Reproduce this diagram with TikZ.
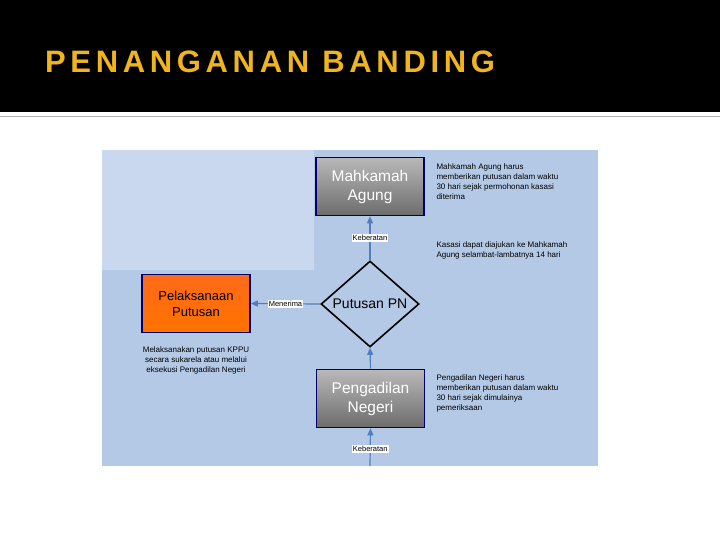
\documentclass[tikz,border=0pt]{standalone}
\usepackage{fontspec}
\setmainfont{Liberation Sans}
\newfontfamily\ttlfont[LetterSpace=15]{Liberation Sans}
\usetikzlibrary{shapes.geometric,arrows.meta}
\definecolor{ttl}{HTML}{F0B41E}
\definecolor{pan}{HTML}{B4C9E6}
\definecolor{pan2}{HTML}{C9D8EE}
\definecolor{arr}{HTML}{4F7FBF}
\tikzset{
 gbox/.style={draw=blue!40!black,line width=1.6pt,top color=gray!55,bottom color=gray!85!black,minimum width=108pt,minimum height=58pt,align=center,text=white,font=\fontsize{15.5}{19}\selectfont},
 obox/.style={draw=blue!40!black,line width=1.6pt,top color=orange!70!red!90,bottom color=orange!90!red,fill=orange,minimum width=108pt,minimum height=58pt,align=center,font=\fontsize{13}{16}\selectfont},
 note/.style={align=left,font=\fontsize{8}{10}\selectfont,anchor=north west},
 lab/.style={fill=white,inner sep=1pt,font=\fontsize{7.5}{8}\selectfont},
 con/.style={draw=arr,line width=1.2pt,-{Triangle[length=7pt,width=6pt]}}
}
\begin{document}
\begin{tikzpicture}[x=1pt,y=-1pt]
\useasboundingbox (0,0) rectangle (720,540);
\fill[black] (0,0) rectangle (720,112);
\draw[gray!60,line width=1pt] (0,117) -- (720,117);
\node[anchor=west,text=ttl,inner sep=0pt,font=\ttlfont\bfseries\fontsize{31}{33}\selectfont] (t) at (45,62) {PENANGANAN BANDING};
\fill[pan] (102,150) rectangle (598,466);
\fill[pan2] (102,150) rectangle (314,270);
\node[gbox] (ma) at (370,186.5) {Mahkamah\\Agung};
\node[gbox] (pn) at (370.5,398.5) {Pengadilan\\Negeri};
\node[obox] (pp) at (196,303.5) {Pelaksanaan\\Putusan};
\node[draw,line width=1.6pt,diamond,aspect=1.15,minimum width=98pt,minimum height=86pt,inner sep=0pt] (d) at (370,304) {};
\node (dl) at (370,304) {\fontsize{14}{16}\selectfont Putusan PN};
\coordinate (bot) at (370,466);
\draw[con] (d.north) -- node[lab,pos=0.5]{Keberatan} (ma.south);
\draw[con] (d.west) -- node[lab,pos=0.5]{Menerima} (pp.east);
\draw[con] (pn.north) -- (d.south);
\draw[con] (bot) -- node[lab,pos=0.45]{Keberatan} (pn.south);
\node[note] (n1) at (433,160) {Mahkamah Agung harus\\memberikan putusan dalam waktu\\30 hari sejak permohonan kasasi\\diterima};
\node[note] (n2) at (433,238) {Kasasi dapat diajukan ke Mahkamah\\Agung selambat-lambatnya 14 hari};
\node[note] (n3) at (433,371) {Pengadilan Negeri harus\\memberikan putusan dalam waktu\\30 hari sejak dimulainya\\pemeriksaan};
\node[note,align=center,anchor=north] (n4) at (196,343) {Melaksanakan putusan KPPU\\secara sukarela atau melalui\\eksekusi Pengadilan Negeri};
\end{tikzpicture}
\end{document}
